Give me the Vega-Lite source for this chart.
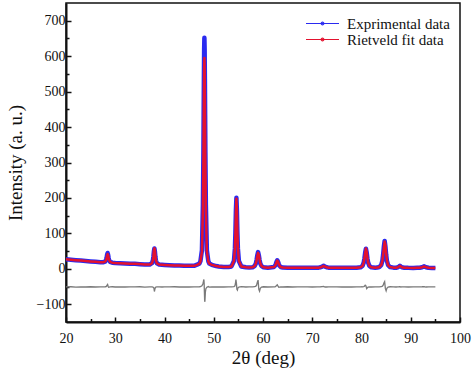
{
  "$schema": "https://vega.github.io/schema/vega-lite/v6.json",
  "width": 394,
  "height": 319,
  "autosize": {"type": "none"},
  "padding": {"left": 66, "top": 3, "right": 14, "bottom": 49},
  "background": "white",
  "config": {
    "view": {"stroke": "#111", "strokeWidth": 1.5},
    "axis": {
      "domainColor": "#111", "domainWidth": 2, "tickColor": "#111", "tickWidth": 1.5,
      "grid": false, "labelOverlap": false, "labelFlush": false
    },
    "legend": {"labelFont": "Times New Roman, Liberation Serif, serif", "labelFontSize": 15, "labelColor": "#111"}
  },
  "resolve": {"axis": {"x": "independent", "y": "independent"}},
  "data": {"values": [
    {"x":20,"e":27,"f":27,"d":-51},
    {"x":21,"e":25.7,"f":25.6,"d":-50.5},
    {"x":22,"e":24.5,"f":24.5,"d":-51.5},
    {"x":23,"e":23.2,"f":23.3,"d":-50.8},
    {"x":24,"e":22,"f":22,"d":-51.2},
    {"x":25,"e":21,"f":20.9,"d":-50.6},
    {"x":26,"e":20,"f":20,"d":-51.3},
    {"x":27,"e":18.8,"f":18.9,"d":-50.9},
    {"x":27.5,"e":18.5,"f":18.4,"d":-51},
    {"x":27.95,"e":20.4,"f":20.3,"d":-50.5},
    {"x":28.15,"e":25.2,"f":25,"d":-50},
    {"x":28.25,"e":31.3,"f":30.5,"d":-48.5},
    {"x":28.35,"e":39.8,"f":38,"d":-46},
    {"x":28.45,"e":44.6,"f":41.5,"d":-44},
    {"x":28.55,"e":39.6,"f":38.8,"d":-49},
    {"x":28.65,"e":30.9,"f":31.5,"d":-52},
    {"x":28.75,"e":24.6,"f":24.9,"d":-51.5},
    {"x":28.95,"e":19.6,"f":19.6,"d":-51},
    {"x":29.4,"e":17.3,"f":17.3,"d":-50.6},
    {"x":30,"e":16.5,"f":16.5,"d":-51.2},
    {"x":31,"e":15.8,"f":15.7,"d":-50.7},
    {"x":32,"e":15,"f":15,"d":-51.3},
    {"x":33,"e":14.5,"f":14.5,"d":-50.8},
    {"x":34,"e":14,"f":14,"d":-51.1},
    {"x":35,"e":13.2,"f":13.3,"d":-50.6},
    {"x":36,"e":12.5,"f":12.5,"d":-51.4},
    {"x":37,"e":12.1,"f":12,"d":-50.9},
    {"x":37.45,"e":15.9,"f":15.7,"d":-50.8},
    {"x":37.65,"e":24.1,"f":24.5,"d":-51.5},
    {"x":37.75,"e":34.7,"f":35.8,"d":-52.5},
    {"x":37.85,"e":49.3,"f":52,"d":-54},
    {"x":37.95,"e":57.6,"f":58,"d":-64},
    {"x":38.05,"e":49.2,"f":53,"d":-57},
    {"x":38.15,"e":34.5,"f":36,"d":-52.5},
    {"x":38.25,"e":23.9,"f":24.3,"d":-51.4},
    {"x":38.45,"e":15.5,"f":15.6,"d":-51},
    {"x":38.9,"e":12.2,"f":12.2,"d":-50.7},
    {"x":39.5,"e":11.5,"f":11.5,"d":-51.2},
    {"x":40,"e":11,"f":11,"d":-50.8},
    {"x":41,"e":10.3,"f":10.3,"d":-51.1},
    {"x":42,"e":9.7,"f":9.7,"d":-50.6},
    {"x":43,"e":9.3,"f":9.3,"d":-51.3},
    {"x":44,"e":9,"f":9,"d":-50.9},
    {"x":45,"e":8.6,"f":8.6,"d":-51.2},
    {"x":46,"e":8.4,"f":8.4,"d":-50.7},
    {"x":46.6,"e":11.6,"f":11.2,"d":-51},
    {"x":47.1,"e":15.2,"f":14.5,"d":-50.5},
    {"x":47.3,"e":21.6,"f":20.5,"d":-50},
    {"x":47.6,"e":52.3,"f":48.5,"d":-48},
    {"x":47.8,"e":181,"f":166,"d":-42},
    {"x":47.9,"e":329,"f":301,"d":-36},
    {"x":47.95,"e":433,"f":395,"d":-32},
    {"x":48,"e":536,"f":489,"d":-30},
    {"x":48.05,"e":620,"f":566,"d":-40},
    {"x":48.1,"e":652,"f":595,"d":-65},
    {"x":48.15,"e":620,"f":566,"d":-88},
    {"x":48.2,"e":536,"f":489,"d":-93},
    {"x":48.25,"e":433,"f":395,"d":-80},
    {"x":48.3,"e":329,"f":301,"d":-66},
    {"x":48.4,"e":181,"f":166,"d":-56},
    {"x":48.6,"e":52,"f":48.5,"d":-52},
    {"x":48.9,"e":21.4,"f":20.5,"d":-50},
    {"x":49.1,"e":15,"f":14.5,"d":-51.5},
    {"x":49.6,"e":11.3,"f":11.2,"d":-50.8},
    {"x":50.5,"e":7.8,"f":7.8,"d":-51.2},
    {"x":51,"e":6.5,"f":6.5,"d":-50.7},
    {"x":52,"e":5.5,"f":5.5,"d":-51.3},
    {"x":53,"e":5.2,"f":5.2,"d":-50.9},
    {"x":53.6,"e":6.8,"f":6.8,"d":-51.1},
    {"x":54.1,"e":22.2,"f":22,"d":-50.5},
    {"x":54.3,"e":57.6,"f":57,"d":-48},
    {"x":54.4,"e":102.6,"f":100,"d":-42},
    {"x":54.5,"e":165.3,"f":160,"d":-30},
    {"x":54.6,"e":200.6,"f":198,"d":-40},
    {"x":54.7,"e":165.3,"f":170,"d":-58},
    {"x":54.8,"e":102.6,"f":106,"d":-60},
    {"x":54.9,"e":57.6,"f":59,"d":-54},
    {"x":55.1,"e":22.2,"f":22.5,"d":-51.5},
    {"x":55.6,"e":6.6,"f":6.6,"d":-50.4},
    {"x":56.5,"e":4.3,"f":4.3,"d":-51.2},
    {"x":57.2,"e":3.9,"f":3.9,"d":-50.8},
    {"x":57.9,"e":4.7,"f":4.7,"d":-51},
    {"x":58.3,"e":7.8,"f":7.8,"d":-50.5},
    {"x":58.55,"e":15.2,"f":15,"d":-49},
    {"x":58.7,"e":25.3,"f":24.5,"d":-46},
    {"x":58.85,"e":38.5,"f":36,"d":-38},
    {"x":59,"e":47.3,"f":45,"d":-32},
    {"x":59.15,"e":38.5,"f":40,"d":-58},
    {"x":59.3,"e":25.3,"f":27,"d":-63},
    {"x":59.45,"e":15.2,"f":15.8,"d":-55},
    {"x":59.7,"e":7.7,"f":7.8,"d":-51.5},
    {"x":60.1,"e":4.6,"f":4.6,"d":-50.6},
    {"x":61,"e":3.3,"f":3.3,"d":-51.2},
    {"x":62.2,"e":5.1,"f":5.1,"d":-50.7},
    {"x":62.45,"e":8.7,"f":8.6,"d":-51},
    {"x":62.6,"e":13.5,"f":13.2,"d":-49.5},
    {"x":62.75,"e":19.8,"f":19,"d":-47},
    {"x":62.9,"e":24,"f":23,"d":-45},
    {"x":63.05,"e":19.8,"f":20,"d":-49},
    {"x":63.2,"e":13.5,"f":13.8,"d":-52},
    {"x":63.35,"e":8.7,"f":8.8,"d":-51.3},
    {"x":63.6,"e":5.1,"f":5.1,"d":-50.8},
    {"x":64,"e":3.6,"f":3.6,"d":-51.2},
    {"x":65,"e":3.2,"f":3.2,"d":-50.6},
    {"x":66,"e":3.1,"f":3.1,"d":-51.3},
    {"x":67,"e":3,"f":3,"d":-50.9},
    {"x":68,"e":3,"f":3,"d":-51.1},
    {"x":69,"e":3,"f":3,"d":-50.7},
    {"x":70,"e":3,"f":3,"d":-51.2},
    {"x":71,"e":3.1,"f":3.1,"d":-50.9},
    {"x":71.3,"e":3.3,"f":3.3,"d":-51},
    {"x":71.7,"e":4.5,"f":4.4,"d":-50.6},
    {"x":72,"e":6.2,"f":6,"d":-50.2},
    {"x":72.3,"e":8.5,"f":8,"d":-49.5},
    {"x":72.6,"e":6.2,"f":6.2,"d":-51.2},
    {"x":72.9,"e":4.5,"f":4.5,"d":-51.3},
    {"x":73.3,"e":3.3,"f":3.3,"d":-50.8},
    {"x":74,"e":3,"f":3,"d":-51.1},
    {"x":75,"e":2.9,"f":2.9,"d":-50.7},
    {"x":76,"e":2.9,"f":2.9,"d":-51.3},
    {"x":77,"e":2.8,"f":2.8,"d":-50.9},
    {"x":78,"e":2.8,"f":2.8,"d":-51.2},
    {"x":79,"e":2.9,"f":2.9,"d":-50.8},
    {"x":79.8,"e":4.4,"f":4.4,"d":-51},
    {"x":80.2,"e":8.2,"f":8.1,"d":-50.6},
    {"x":80.45,"e":17.4,"f":17.2,"d":-50},
    {"x":80.6,"e":29.8,"f":29,"d":-49},
    {"x":80.75,"e":46,"f":45,"d":-46},
    {"x":80.9,"e":56.8,"f":57.5,"d":-48},
    {"x":81.05,"e":46,"f":49,"d":-56},
    {"x":81.2,"e":29.8,"f":31,"d":-53.5},
    {"x":81.35,"e":17.4,"f":17.8,"d":-51.5},
    {"x":81.6,"e":8.2,"f":8.2,"d":-50.8},
    {"x":82,"e":4.4,"f":4.4,"d":-51.2},
    {"x":82.8,"e":3.1,"f":3.1,"d":-50.7},
    {"x":83.2,"e":3.5,"f":3.5,"d":-51.1},
    {"x":83.6,"e":5.1,"f":5.1,"d":-50.9},
    {"x":84,"e":10.4,"f":10.3,"d":-50.5},
    {"x":84.25,"e":23.3,"f":23,"d":-49},
    {"x":84.4,"e":40.8,"f":39.5,"d":-46},
    {"x":84.55,"e":63.6,"f":60,"d":-40},
    {"x":84.7,"e":78.8,"f":77,"d":-36},
    {"x":84.85,"e":63.6,"f":68,"d":-56},
    {"x":85,"e":40.8,"f":44,"d":-62},
    {"x":85.15,"e":23.3,"f":24.5,"d":-55},
    {"x":85.4,"e":10.4,"f":10.6,"d":-51.5},
    {"x":85.8,"e":5.1,"f":5.1,"d":-50.6},
    {"x":86.5,"e":3.4,"f":3.4,"d":-51},
    {"x":87,"e":3.2,"f":3.2,"d":-51.2},
    {"x":87.4,"e":4.5,"f":4.5,"d":-50.8},
    {"x":87.6,"e":6.5,"f":6.4,"d":-50.5},
    {"x":87.8,"e":8.6,"f":8.2,"d":-50},
    {"x":88,"e":6.5,"f":6.6,"d":-51.3},
    {"x":88.2,"e":4.5,"f":4.5,"d":-51},
    {"x":88.7,"e":3.2,"f":3.2,"d":-50.7},
    {"x":89.5,"e":2.8,"f":2.8,"d":-51.2},
    {"x":90.5,"e":2.7,"f":2.7,"d":-50.8},
    {"x":91.3,"e":2.8,"f":2.8,"d":-51.1},
    {"x":91.8,"e":3,"f":3,"d":-50.9},
    {"x":92.3,"e":4.6,"f":4.5,"d":-50.6},
    {"x":92.7,"e":7,"f":6.7,"d":-50.2},
    {"x":93.1,"e":4.6,"f":4.7,"d":-51.3},
    {"x":93.6,"e":3,"f":3,"d":-50.8},
    {"x":94.3,"e":2.6,"f":2.6,"d":-51.1},
    {"x":95,"e":2.5,"f":2.5,"d":-50.9}
  ]},
  "layer": [
    {
      "mark": {"type": "line", "color": "#7a7a7a", "strokeWidth": 1.3},
      "encoding": {
        "x": {
          "field": "x", "type": "quantitative",
          "scale": {"domain": [20, 100], "nice": false, "zero": false},
          "axis": {
            "orient": "bottom",
            "title": "2θ (deg)",
            "values": [20,30,40,50,60,70,80,90,100],
            "tickSize": -5,
            "labelFont": "Liberation Serif",
            "labelFontSize": 14,
            "labelColor": "#111",
            "titleFont": "Liberation Serif",
            "titleFontSize": 19,
            "titleFontWeight": "normal",
            "titleColor": "#111",
            "labelPadding": 14,
            "titlePadding": 3
          }
        },
        "y": {
          "field": "d", "type": "quantitative",
          "scale": {"domain": [-150, 750], "nice": false, "zero": false},
          "axis": {
            "orient": "left",
            "title": "Intensity (a. u.)",
            "values": [-100,0,100,200,300,400,500,600,700],
            "tickSize": -5,
            "labelFont": "Liberation Serif",
            "labelFontSize": 14,
            "labelColor": "#111",
            "titleFont": "Liberation Serif",
            "titleFontSize": 19,
            "titleFontWeight": "normal",
            "titleColor": "#111",
            "labelPadding": 6,
            "titlePadding": 11
          }
        }
      }
    },
    {
      "mark": {"type": "line", "strokeWidth": 4.5, "strokeJoin": "round"},
      "encoding": {
        "x": {
          "field": "x", "type": "quantitative",
          "axis": {"orient": "bottom", "title": null, "labels": false, "domain": false, "values": [25,35,45,55,65,75,85,95], "tickSize": -3.5}
        },
        "y": {
          "field": "e", "type": "quantitative",
          "axis": {"orient": "left", "title": null, "labels": false, "domain": false, "values": [-50,50,150,250,350,450,550,650], "tickSize": -3}
        },
        "color": {"datum": "Exprimental data"}
      }
    },
    {
      "mark": {"type": "line", "strokeWidth": 2.5, "strokeJoin": "round"},
      "encoding": {
        "x": {"field": "x", "type": "quantitative", "axis": null},
        "y": {"field": "f", "type": "quantitative", "axis": null},
        "color": {
          "datum": "Rietveld fit data",
          "scale": {"domain": ["Exprimental data", "Rietveld fit data"], "range": ["#2a2af0", "#e3122e"]},
          "legend": {
            "title": null,
            "orient": "none",
            "legendX": 249,
            "legendY": 13,
            "padding": 0,
            "symbolType": "M-3,0H3M-0.25,0A0.25,0.25 0 1,0 0.25,0A0.25,0.25 0 1,0 -0.25,0",
            "symbolSize": 121,
            "symbolStrokeWidth": 1.1,
            "labelOffset": 17,
            "rowPadding": 0
          }
        }
      }
    }
  ]
}
